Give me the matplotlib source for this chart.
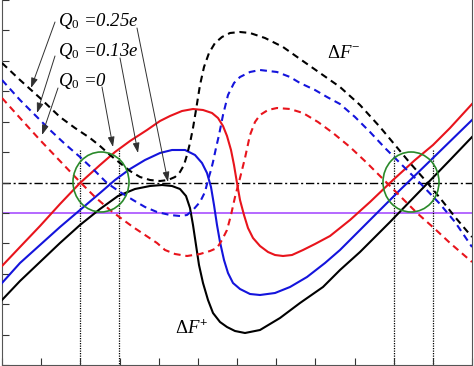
import matplotlib
matplotlib.use("Agg")
import matplotlib.pyplot as plt
from matplotlib.patches import Ellipse
import numpy as np

plt.rcParams['mathtext.fontset'] = 'custom'
plt.rcParams['mathtext.rm'] = 'Liberation Serif'
plt.rcParams['mathtext.it'] = 'Liberation Serif:italic'
plt.rcParams['mathtext.bf'] = 'Liberation Serif:bold'
plt.rcParams['font.family'] = ['Liberation Serif', 'DejaVu Serif']

x_black_p = [2, 20, 40, 60, 80, 100, 118, 135, 150, 162, 172, 180, 186, 190, 193, 196, 199, 203,
             208, 213, 220, 227, 235, 245, 260, 280, 300, 323, 340, 360, 390, 420, 450, 472]
y_black_p = [300, 281, 262, 243, 225, 209, 196, 189, 186, 185, 186, 189, 196, 208, 225, 245, 265, 283,
             300, 313, 322, 327, 331, 333, 330, 318, 303, 287, 270, 252, 222, 191, 160, 137]

x_blue_p = [2, 20, 40, 60, 80, 100, 115, 130, 145, 160, 172, 185, 195, 202, 207, 211, 214, 217,
            220, 224, 228, 233, 240, 250, 260, 275, 290, 307, 325, 340, 370, 400, 433, 472]
y_blue_p = [283, 263, 245, 227, 210, 193, 180, 169, 160, 153, 150, 150, 155, 163, 173, 187, 205, 225,
            242, 260, 273, 283, 289, 294, 295, 293, 287, 277, 263, 250, 220, 190, 158, 120]

x_red_p = [2, 20, 40, 60, 80, 100, 115, 130, 147, 160, 170, 182, 193, 203, 212, 218, 223, 227, 231,
           234, 237, 240, 244, 248, 253, 260, 268, 275, 283, 292, 303, 315, 330, 350, 370, 393, 415,
           433, 450, 472]
y_red_p = [266, 247, 226, 204, 183, 165, 152, 141, 130, 121, 116, 111, 109, 110, 113, 118, 126, 136, 150,
           165, 183, 200, 215, 228, 238, 246, 252, 255, 256, 255, 250, 244, 236, 220, 202, 180, 160,
           145, 128, 104]

x_black_m = [2, 20, 40, 60, 75, 90, 100, 110, 120, 130, 140, 150, 160, 168, 175, 180, 184, 187, 190,
             193, 196, 200, 204, 209, 215, 222, 230, 240, 250, 265, 283, 300, 320, 340, 360, 380, 395,
             410, 425, 440, 455, 472]
y_black_m = [63, 80, 98, 117, 128, 138, 146, 155, 163, 171, 177, 180, 181, 180, 177, 172, 165, 155, 143,
             128, 110, 85, 67, 53, 43, 37, 33, 32, 33, 38, 47, 59, 73, 87, 105, 127, 145,
             163, 180, 198, 217, 237]

x_blue_m = [2, 20, 40, 50, 65, 80, 95, 107, 120, 133, 145, 157, 170, 180, 187, 193, 200, 205, 208,
            211, 213, 216, 219, 223, 228, 234, 240, 250, 260, 277, 290, 300, 315, 327, 340, 355, 370,
            385, 400, 420, 440, 455, 472]
y_blue_m = [80, 100, 120, 130, 144, 157, 171, 183, 192, 200, 207, 212, 215, 216, 215, 210, 202, 192, 180,
            170, 162, 148, 135, 115, 95, 83, 77, 72, 70, 72, 77, 83, 90, 97, 104, 117, 132,
            148, 163, 183, 204, 222, 247]

x_red_m = [2, 20, 40, 60, 80, 95, 110, 122, 133, 145, 157, 165, 175, 187, 200, 210, 217, 222, 227,
           231, 235, 240, 245, 250, 255, 260, 268, 277, 290, 303, 318, 333, 350, 367, 392, 417, 435,
           450, 472]
y_red_m = [98, 118, 140, 161, 182, 197, 210, 219, 227, 235, 243, 250, 254, 256, 254, 251, 248, 240, 230,
           215, 197, 178, 158, 135, 122, 115, 110, 108, 109, 113, 122, 133, 147, 163, 188, 213, 229,
           243, 262]

y_dashdot = 183
y_purple = 213
x_vlines = [80, 119, 394, 433]
y_vline_top = 150
circle_centers = [(101, 182), (411, 182)]

labels = [r'$Q_0$ =0.25e', r'$Q_0$ =0.13e', r'$Q_0$ =0']
label_pos = [(58, 26), (58, 56), (58, 86)]
arrow_left = [((55, 22), (31, 88)), ((55, 56), (37, 113)), ((58, 88), (42, 135))]
arrow_right = [((137, 28), (168, 182)), ((120, 58), (138, 153)), ((102, 87), (113, 147))]

# ---- figure ----
W, H = 474, 366
fig = plt.figure(figsize=(W / 100, H / 100), dpi=100)
ax = fig.add_axes([2 / W, 1 / H, 470 / W, 365 / H])
ax.set_xlim(2, 472)
ax.set_ylim(365, 0)

red = '#e8141c'
blue = '#1414dc'
lw = 1.5
dash = (0, (3.3, 2.3))

ax.axhline(y_dashdot, color='black', lw=1.0, ls=(0, (6, 2, 1.5, 2)), zorder=1)
ax.axhline(y_purple, color='#a040ff', lw=1.1, zorder=1)
for xv in x_vlines:
    ax.plot([xv, xv], [y_vline_top, 365], color='black', lw=0.9, ls=(0, (1, 1)), zorder=1)

ax.plot(x_red_p, y_red_p, color=red, lw=lw, zorder=3)
ax.plot(x_blue_p, y_blue_p, color=blue, lw=lw, zorder=3)
ax.plot(x_black_p, y_black_p, color='black', lw=lw, zorder=3)
ax.plot(x_black_m, y_black_m, color='black', lw=lw, ls=dash, zorder=3)
ax.plot(x_blue_m, y_blue_m, color=blue, lw=lw, ls=dash, zorder=3)
ax.plot(x_red_m, y_red_m, color=red, lw=lw, ls=dash, zorder=3)

for c in circle_centers:
    ax.add_patch(Ellipse(c, 56, 60, fill=False, edgecolor='#2a8a2a', lw=1.2, zorder=4))

for lab, (lx, ly) in zip(labels, label_pos):
    ax.text(lx, ly, lab, fontsize=13.5, style='italic', ha='left', va='baseline', color='black')

ax.text(327, 58, r'$\Delta F^{-}$', fontsize=13.5, ha='left', va='baseline')
ax.text(175, 333, r'$\Delta F^{\mathbf{+}}$', fontsize=13.5, ha='left', va='baseline')

for (s, t) in arrow_left + arrow_right:
    ax.annotate('', xy=t, xytext=s,
                arrowprops=dict(arrowstyle='-|>,head_length=0.6,head_width=0.2',
                                color='#303030', lw=0.7, shrinkA=0, shrinkB=0), zorder=5)

ax.set_xticks(np.linspace(2, 472, 13))
ax.set_yticks(np.linspace(365, 0, 13))
ax.tick_params(direction='in', length=5, width=0.8, color='#333333',
               labelleft=False, labelbottom=False)
ax.spines['top'].set_visible(False)
for s in ['left', 'right', 'bottom']:
    ax.spines[s].set_color('#555555')
    ax.spines[s].set_linewidth(0.8)

fig.savefig('out.png', dpi=100)
